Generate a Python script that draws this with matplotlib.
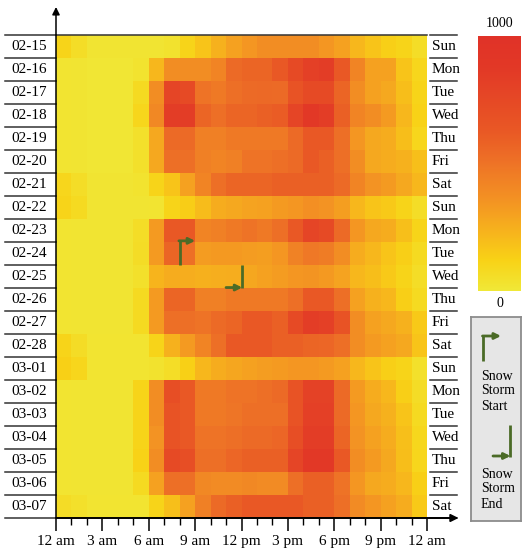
import numpy as np
import matplotlib
matplotlib.use('Agg')
import matplotlib.pyplot as plt
import matplotlib.transforms as mtrans
from matplotlib.colors import LinearSegmentedColormap

plt.rcParams['font.family'] = ['Liberation Serif', 'DejaVu Serif']

dates = ['02-15', '02-16', '02-17', '02-18', '02-19', '02-20', '02-21',
         '02-22', '02-23', '02-24', '02-25', '02-26', '02-27', '02-28',
         '03-01', '03-02', '03-03', '03-04', '03-05', '03-06', '03-07']
days = ['Sun', 'Mon', 'Tue', 'Wed', 'Thu', 'Fri', 'Sat'] * 3
hour_ticks = [0, 3, 6, 9, 12, 15, 18, 21, 24]
hour_labels = ['12 am', '3 am', '6 am', '9 am', '12 pm', '3 pm', '6 pm', '9 pm', '12 am']

# hourly counts per day (0-1000)
counts = [
    [110, 60, 20, 20, 20, 20, 20, 35, 110, 170, 240, 300, 340, 380, 380, 380, 380, 340, 300, 215, 170, 130, 110, 60],
    [25, 20, 15, 15, 15, 30, 215, 380, 380, 380, 420, 540, 570, 570, 630, 735, 820, 840, 630, 420, 300, 300, 170, 100],
    [25, 20, 15, 15, 15, 80, 380, 780, 735, 500, 470, 520, 540, 550, 540, 670, 735, 735, 570, 380, 300, 275, 195, 110],
    [25, 20, 15, 15, 15, 100, 405, 840, 840, 570, 520, 570, 570, 590, 610, 780, 880, 840, 590, 420, 380, 325, 215, 120],
    [25, 20, 15, 15, 15, 45, 275, 540, 540, 440, 440, 470, 470, 470, 470, 540, 630, 630, 520, 340, 275, 260, 195, 100],
    [25, 20, 15, 15, 15, 45, 275, 520, 520, 440, 420, 440, 500, 500, 520, 540, 630, 590, 520, 380, 275, 260, 240, 190],
    [100, 60, 20, 20, 20, 30, 110, 170, 300, 420, 520, 570, 570, 570, 590, 590, 590, 590, 540, 420, 355, 325, 275, 215],
    [110, 80, 20, 20, 20, 20, 25, 110, 140, 200, 260, 275, 290, 300, 325, 340, 370, 355, 310, 215, 170, 155, 110, 60],
    [25, 20, 20, 20, 20, 60, 325, 630, 630, 420, 440, 470, 500, 470, 520, 630, 780, 735, 540, 340, 275, 260, 190, 110],
    [25, 20, 20, 20, 20, 65, 325, 570, 520, 320, 330, 330, 320, 310, 340, 430, 480, 460, 380, 260, 215, 170, 130, 80],
    [25, 20, 20, 20, 20, 45, 230, 260, 255, 245, 250, 255, 280, 300, 320, 340, 350, 330, 290, 215, 195, 155, 110, 60],
    [25, 20, 20, 20, 20, 80, 325, 570, 570, 440, 440, 470, 470, 470, 470, 520, 630, 630, 520, 300, 240, 215, 130, 80],
    [25, 20, 20, 20, 20, 80, 325, 520, 520, 500, 540, 570, 630, 630, 590, 735, 840, 820, 670, 380, 300, 275, 240, 155],
    [110, 65, 25, 25, 25, 25, 110, 240, 325, 420, 520, 630, 630, 630, 590, 590, 570, 560, 520, 380, 325, 300, 275, 170],
    [125, 100, 25, 25, 25, 25, 35, 60, 125, 215, 260, 285, 300, 315, 325, 340, 340, 325, 300, 215, 170, 130, 110, 45],
    [25, 20, 20, 20, 20, 110, 380, 710, 630, 470, 470, 500, 500, 520, 540, 670, 800, 800, 540, 325, 260, 215, 130, 65],
    [25, 20, 20, 20, 20, 110, 380, 670, 630, 470, 470, 490, 520, 520, 520, 670, 820, 820, 540, 340, 275, 240, 170, 80],
    [25, 20, 20, 20, 20, 110, 355, 670, 630, 500, 500, 520, 540, 540, 560, 710, 840, 840, 570, 355, 300, 260, 190, 95],
    [25, 20, 20, 20, 20, 120, 380, 735, 710, 520, 520, 560, 590, 590, 590, 780, 880, 880, 630, 380, 325, 275, 195, 100],
    [25, 20, 20, 20, 20, 80, 300, 520, 520, 405, 390, 390, 405, 390, 390, 520, 590, 590, 500, 340, 275, 260, 215, 130],
    [65, 45, 25, 25, 25, 25, 110, 190, 300, 440, 540, 590, 630, 630, 630, 630, 590, 590, 520, 390, 340, 300, 260, 155],
]

# snow storm markers: (hour, row index)
storm_start = (8, 9)
storm_end = (12, 10)

cmap = LinearSegmentedColormap.from_list('storm', [
    (0.0, '#F0E837'), (0.12, '#F8D216'), (0.22, '#F7B61C'), (0.36, '#F39123'),
    (0.5, '#EE7326'), (0.63, '#E95825'), (0.88, '#E23826'), (1.0, '#E03228')])

fig = plt.figure(figsize=(5.27, 5.5), dpi=100)
ax = fig.add_axes([56 / 527, 32 / 550, 371 / 527, 483 / 550])

vals = np.array(counts)
mesh = ax.pcolormesh(np.arange(25), np.arange(len(dates) + 1), vals,
                     cmap=cmap, vmin=0, vmax=1000)
ax.set_xlim(0, 24)
ax.set_ylim(len(dates), 0)
for s in ax.spines.values():
    s.set_visible(False)

trans = mtrans.blended_transform_factory(ax.transAxes, ax.transData)
for i in range(len(dates) + 1):
    ax.plot([-0.1375, 0], [i, i], transform=trans, color='#333333', lw=1.1, clip_on=False)
    ax.plot([1.008, 1.081], [i, i], transform=trans, color='#333333', lw=1.1, clip_on=False)
ax.plot([0, 1.0], [0, 0], transform=trans, color='#333333', lw=1.1, clip_on=False)

for i, (d, w) in enumerate(zip(dates, days)):
    ax.text(-0.073, i + 0.5, d, transform=trans, ha='center', va='center', fontsize=11)
    ax.text(1.013, i + 0.5, w, transform=trans, ha='left', va='center', fontsize=11)

# axis arrows
ax.annotate('', xy=(0, 1.058), xytext=(0, 0), xycoords='axes fraction',
            arrowprops=dict(arrowstyle='-|>', color='black', lw=1.1, mutation_scale=11,
                            shrinkA=0, shrinkB=0))
ax.annotate('', xy=(1.085, 0), xytext=(0, 0), xycoords='axes fraction',
            arrowprops=dict(arrowstyle='-|>', color='black', lw=1.4, mutation_scale=11,
                            shrinkA=0, shrinkB=0))

ax.set_xticks(hour_ticks)
ax.set_xticklabels(hour_labels, fontsize=11)
ax.set_xticks(range(25), minor=True)
ax.tick_params(axis='x', which='major', length=9, width=1.1, pad=3, direction='out')
ax.tick_params(axis='x', which='minor', length=5, width=1.0, direction='out')
ax.set_yticks([])

# storm arrows
green = '#4B6B27'
hx, r = storm_start
ax.plot([hx, hx], [r + 1, r - 0.05], color=green, lw=2, solid_capstyle='butt')
ax.annotate('', xy=(hx + 1, r - 0.05), xytext=(hx - 0.05, r - 0.05),
            arrowprops=dict(arrowstyle='-|>', color=green, lw=2, mutation_scale=9,
                            shrinkA=0, shrinkB=0))
hx, r = storm_end
ax.plot([hx, hx], [r, r + 1], color=green, lw=2, solid_capstyle='butt')
ax.annotate('', xy=(hx + 0.05, r + 0.98), xytext=(hx - 1, r + 0.98),
            arrowprops=dict(arrowstyle='-|>', color=green, lw=2, mutation_scale=9,
                            shrinkA=0, shrinkB=0))

# colorbar
cax = fig.add_axes([478 / 527, (550 - 291) / 550, 43 / 527, 255 / 550])
cb = fig.colorbar(mesh, cax=cax)
cb.outline.set_visible(False)
cax.set_yticks([])
cax.text(0.5, 1.025, '1000', transform=cax.transAxes, ha='center', va='bottom', fontsize=10)
cax.text(0.5, -0.025, '0', transform=cax.transAxes, ha='center', va='top', fontsize=10)

# legend box
lax = fig.add_axes([471 / 527, (550 - 521) / 550, 50 / 527, 204 / 550])
lax.set_facecolor('#E6E6E6')
for s in lax.spines.values():
    s.set_color('#8C8C8C')
    s.set_linewidth(1.3)
lax.set_xlim(0, 50)
lax.set_ylim(204, 0)
lax.set_xticks([])
lax.set_yticks([])
lax.plot([12, 12], [44, 19], color=green, lw=2, solid_capstyle='butt')
lax.annotate('', xy=(30, 19), xytext=(11.5, 19),
             arrowprops=dict(arrowstyle='-|>', color=green, lw=2, mutation_scale=9,
                             shrinkA=0, shrinkB=0))
lax.text(10, 74, 'Snow\nStorm\nStart', ha='left', va='center', fontsize=10, linespacing=1.2)
lax.plot([39, 39], [108, 140], color=green, lw=2, solid_capstyle='butt')
lax.annotate('', xy=(39.5, 139), xytext=(22, 139),
             arrowprops=dict(arrowstyle='-|>', color=green, lw=2, mutation_scale=9,
                             shrinkA=0, shrinkB=0))
lax.text(10, 172, 'Snow\nStorm\nEnd', ha='left', va='center', fontsize=10, linespacing=1.2)

fig.savefig('out.png', dpi=100)
